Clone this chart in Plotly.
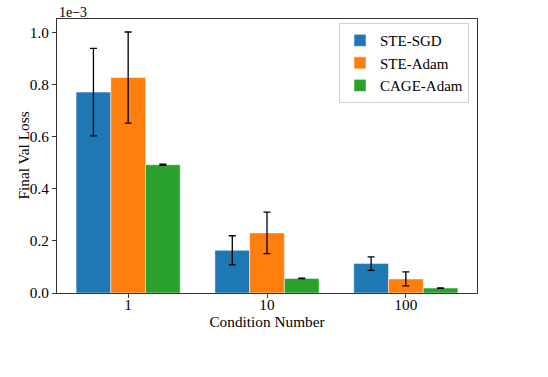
import plotly.graph_objects as go

# Values in units of 1e-3
categories = ["1", "10", "100"]
series_names = ["STE-SGD", "STE-Adam", "CAGE-Adam"]
ste_sgd_mean = [0.772, 0.164, 0.113]
ste_sgd_std = [0.168, 0.056, 0.026]
ste_adam_mean = [0.828, 0.231, 0.054]
ste_adam_std = [0.175, 0.080, 0.027]
cage_adam_mean = [0.493, 0.056, 0.019]
cage_adam_std = [0.002, 0.001, 0.001]
y_ticks = [0.0, 0.2, 0.4, 0.6, 0.8, 1.0]

colors = ["#1f77b4", "#ff7f0e", "#2ca02c"]
means = [ste_sgd_mean, ste_adam_mean, cage_adam_mean]
stds = [ste_sgd_std, ste_adam_std, cage_adam_std]

font = "Liberation Serif"
fs = 15.3

fig = go.Figure()
for name, m, s, c in zip(series_names, means, stds, colors):
    fig.add_trace(go.Bar(
        x=categories, y=m, name=name,
        marker=dict(color=c, line=dict(color="rgba(255,255,255,0.6)", width=0.8)),
        error_y=dict(type="data", array=s, visible=True, color="black",
                     thickness=1.3, width=3.5),
    ))

fig.update_layout(
    width=548, height=377,
    barmode="group", bargap=0.25, bargroupgap=0,
    plot_bgcolor="white", paper_bgcolor="white",
    margin=dict(l=57, r=71, t=19, b=84, autoexpand=False),
    font=dict(family=font, size=fs, color="black"),
    showlegend=True,
    legend=dict(
        x=0.981, y=0.985, xanchor="right", yanchor="top",
        bordercolor="#d0d0d0", borderwidth=1, bgcolor="rgba(255,255,255,0.8)",
        font=dict(family=font, size=15),
        itemwidth=30, tracegroupgap=0,
    ),
    xaxis=dict(
        type="category", range=[-0.5125, 2.5125], automargin=False,
        showline=True, linecolor="#333333", linewidth=1, mirror=True,
        ticks="outside", ticklen=4, tickcolor="#333333", ticklabelstandoff=-6,
        title=dict(text="Condition Number", standoff=0, font=dict(family=font, size=fs)),
        showgrid=False, tickfont=dict(family=font, size=fs),
    ),
    yaxis=dict(
        range=[0, 1.053], tickvals=y_ticks, tickformat=".1f", automargin=False,
        showline=True, linecolor="#333333", linewidth=1, mirror=True,
        ticks="outside", ticklen=4, tickcolor="#333333",
        showgrid=False, zeroline=False, tickfont=dict(family=font, size=fs),
    ),
    annotations=[
        dict(
            text="1e\u22123", xref="paper", yref="paper", x=0, y=1.0,
            xanchor="left", yanchor="bottom", showarrow=False,
            font=dict(family=font, size=14), yshift=-3,
        ),
        dict(
            text="Final Val Loss", xref="paper", yref="paper",
            x=-0.0821, y=0.5, xanchor="center", yanchor="middle",
            textangle=-90, showarrow=False,
            font=dict(family=font, size=fs),
        ),
    ],
)

fig.write_html("out.html", config={"displayModeBar": False},
               post_script="document.body.style.margin='0';")
